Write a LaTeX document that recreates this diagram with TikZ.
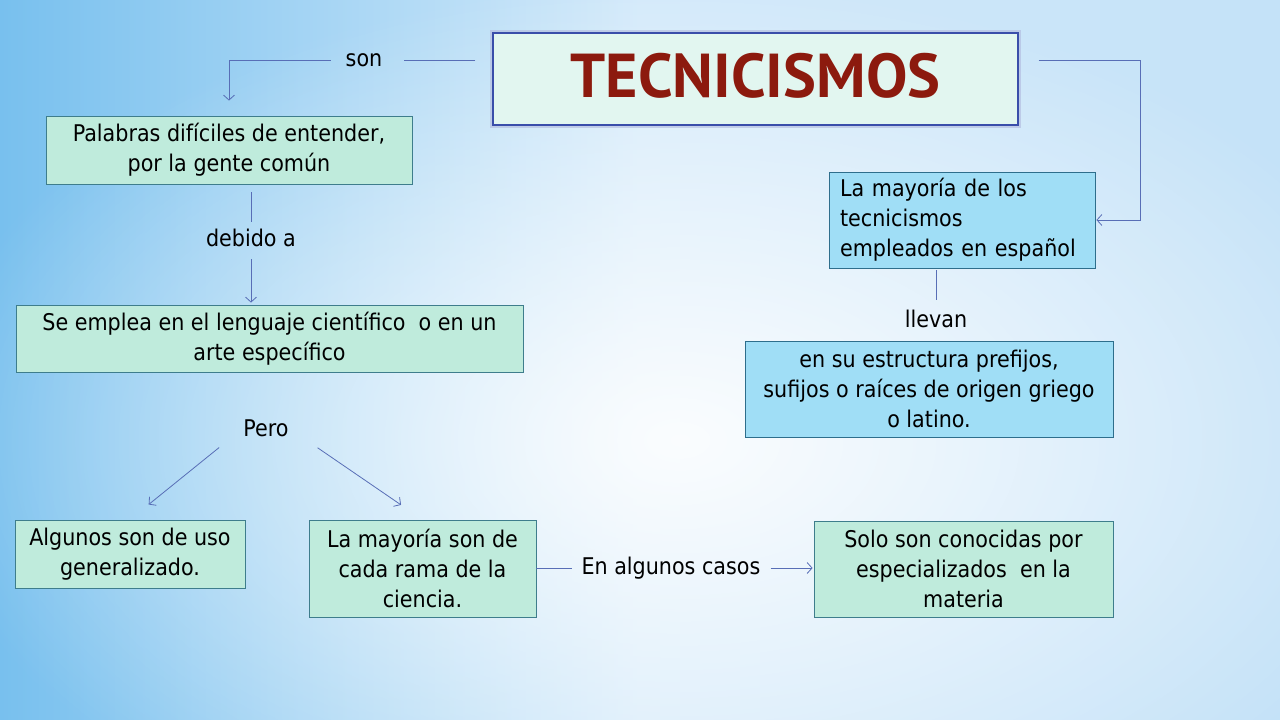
\documentclass[tikz,border=0pt]{standalone}
\usepackage{fontspec}
\setmainfont{DejaVu Sans Condensed}
\newfontfamily\titlefont{PT Sans}
\usetikzlibrary{fadings,arrows.meta}

\definecolor{bgleft}{RGB}{120,192,238}
\definecolor{bgmid}{RGB}{212,234,250}
\definecolor{bgright}{RGB}{196,226,248}
\definecolor{mintfill}{RGB}{191,235,220}
\definecolor{mintline}{RGB}{62,125,140}
\definecolor{skyfill}{RGB}{160,222,246}
\definecolor{skyline}{RGB}{46,110,140}
\definecolor{conline}{RGB}{88,110,182}
\definecolor{titlered}{RGB}{140,26,14}
\definecolor{titlefill}{RGB}{226,246,240}
\definecolor{titleline}{RGB}{58,78,170}

\tikzfading[name=softglow, inner color=transparent!10, outer color=transparent!100]

\begin{document}
\begin{tikzpicture}[x=1pt,y=-1pt,
    mint/.style = {shape=rectangle, draw=mintline, fill=mintfill,
      align=center, inner sep=0pt, line width=0.8pt,
      font=\fontsize{23}{30}\selectfont},
    sky/.style = {shape=rectangle, draw=skyline, fill=skyfill,
      align=center, inner sep=0pt, line width=0.8pt,
      font=\fontsize{23}{30}\selectfont},
    lbl/.style = {inner sep=0pt, font=\fontsize{23}{30}\selectfont},
    con/.style = {draw=conline, line width=0.8pt},
    arr/.style = {con, -{Straight Barb[length=5pt,width=11pt]}}]
  \useasboundingbox (0,0) rectangle (1280,720);
  % background
  \shade[left color=bgleft, right color=bgright, middle color=bgmid]
    (0,0) rectangle (1280,720);
  \begin{scope}
    \clip (0,0) rectangle (1280,720);
    \fill[white, path fading=softglow]
      (680,440) ellipse [x radius=760, y radius=460];
  \end{scope}

  % title
  \draw[titleline!40, line width=6pt, opacity=.6]
    (493,33) rectangle (1018,125);
  \node[draw=titleline, fill=titlefill, line width=1.2pt,
    minimum width=525pt, minimum height=92pt, inner sep=0pt]
    (title) at (755.5,79) {};
  \node[inner sep=0pt, text=titlered,
    font=\titlefont\bfseries\fontsize{62}{62}\selectfont]
    (tname) at (755.5,76) {TECNICISMOS};

  % left branch
  \node[lbl] (son) at (364,60) {son};
  \node[mint, minimum width=366pt, minimum height=68pt] (pal) at (229,150)
    {Palabras difíciles de entender,\\por la gente común};
  \node[lbl] (debido) at (251,238) {debido a};
  \node[mint, minimum width=507pt, minimum height=67pt] (emplea) at (269.5,338.5)
    {Se emplea en el lenguaje científico\ \ o en un\\arte específico};
  \node[lbl] (pero) at (266,428) {Pero};
  \node[mint, minimum width=230pt, minimum height=68pt] (algunos) at (130,554)
    {Algunos son de uso\\generalizado.};
  \node[mint, minimum width=227pt, minimum height=97pt] (rama) at (422.5,568.5)
    {La mayoría son de\\cada rama de la\\ciencia.};
  \node[lbl] (casos) at (671,568) {En algunos casos};
  \node[mint, minimum width=299pt, minimum height=96pt] (solo) at (963.5,569)
    {Solo son conocidas por\\especializados\ \ en la\\materia};

  % right branch
  \node[sky, minimum width=266pt, minimum height=96pt, align=left,
    text width=244pt] (mayoria) at (962,220)
    {La mayoría de los\\tecnicismos\\empleados en español};
  \node[lbl] (llevan) at (936,319) {llevan};
  \node[sky, minimum width=368pt, minimum height=96pt] (origen) at (929,389)
    {en su estructura prefijos,\\sufijos o raíces de origen griego\\o latino.};

  % connectors
  \draw[con, shorten <=17pt, shorten >=22pt] (title.west |- son) -- (son.east);
  \draw[arr, shorten <=15pt, shorten >=15pt] (son.west) -| (pal.north);
  \draw[con, shorten <=8pt, shorten >=7pt] (pal.south -| debido) -- (debido.north);
  \draw[arr, shorten <=12pt, shorten >=2pt] (debido.south) -- (debido.south |- emplea.north);
  \draw[arr, shorten <=31pt, shorten >=24pt] (pero.west) -- (algunos.north);
  \draw[arr, shorten <=35pt, shorten >=26pt] (pero.east) -- (rama.north);
  \draw[con, shorten >=9pt] (rama.east |- casos) -- (casos.west);
  \draw[arr, shorten <=10pt, shorten >=1pt] (casos.east) -- (solo.west |- casos);
  \draw[arr, shorten <=20pt, shorten >=1pt] (title.east |- son) -- ++(122,0) |- (mayoria.east);
  \draw[con, shorten <=2pt, shorten >=10pt] (mayoria.south -| llevan) -- (llevan.north);
\end{tikzpicture}
\end{document}
